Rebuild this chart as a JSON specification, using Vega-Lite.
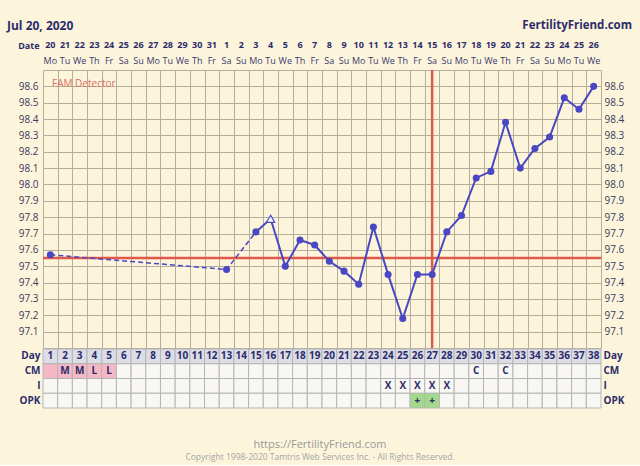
{
  "$schema": "https://vega.github.io/schema/vega-lite/v6.json",
  "background": "#fcf5dc",
  "padding": {"left": 7, "top": 19, "right": 8, "bottom": 4},
  "datasets": {
    "days": [
      {"Day": 1, "date": "20", "wd": "Mo", "temp": 97.57, "period": true},
      {"Day": 2, "date": "21", "wd": "Tu", "CM": "M", "period": true},
      {"Day": 3, "date": "22", "wd": "We", "CM": "M", "period": true},
      {"Day": 4, "date": "23", "wd": "Th", "CM": "L", "period": true},
      {"Day": 5, "date": "24", "wd": "Fr", "CM": "L", "period": true},
      {"Day": 6, "date": "25", "wd": "Sa"},
      {"Day": 7, "date": "26", "wd": "Su"},
      {"Day": 8, "date": "27", "wd": "Mo"},
      {"Day": 9, "date": "28", "wd": "Tu"},
      {"Day": 10, "date": "29", "wd": "We"},
      {"Day": 11, "date": "30", "wd": "Th"},
      {"Day": 12, "date": "31", "wd": "Fr"},
      {"Day": 13, "date": "1", "wd": "Sa", "temp": 97.48},
      {"Day": 14, "date": "2", "wd": "Su"},
      {"Day": 15, "date": "3", "wd": "Mo", "temp": 97.71},
      {"Day": 16, "date": "4", "wd": "Tu", "temp": 97.79},
      {"Day": 17, "date": "5", "wd": "We", "temp": 97.50},
      {"Day": 18, "date": "6", "wd": "Th", "temp": 97.66},
      {"Day": 19, "date": "7", "wd": "Fr", "temp": 97.63},
      {"Day": 20, "date": "8", "wd": "Sa", "temp": 97.53},
      {"Day": 21, "date": "9", "wd": "Su", "temp": 97.47},
      {"Day": 22, "date": "10", "wd": "Mo", "temp": 97.39},
      {"Day": 23, "date": "11", "wd": "Tu", "temp": 97.74},
      {"Day": 24, "date": "12", "wd": "We", "temp": 97.45, "I": "X"},
      {"Day": 25, "date": "13", "wd": "Th", "temp": 97.18, "I": "X"},
      {"Day": 26, "date": "14", "wd": "Fr", "temp": 97.45, "I": "X", "OPK": "+"},
      {"Day": 27, "date": "15", "wd": "Sa", "temp": 97.45, "I": "X", "OPK": "+"},
      {"Day": 28, "date": "16", "wd": "Su", "temp": 97.71, "I": "X"},
      {"Day": 29, "date": "17", "wd": "Mo", "temp": 97.81},
      {"Day": 30, "date": "18", "wd": "Tu", "temp": 98.04, "CM": "C"},
      {"Day": 31, "date": "19", "wd": "We", "temp": 98.08},
      {"Day": 32, "date": "20", "wd": "Th", "temp": 98.38, "CM": "C"},
      {"Day": 33, "date": "21", "wd": "Fr", "temp": 98.10},
      {"Day": 34, "date": "22", "wd": "Sa", "temp": 98.22},
      {"Day": 35, "date": "23", "wd": "Su", "temp": 98.29},
      {"Day": 36, "date": "24", "wd": "Mo", "temp": 98.53},
      {"Day": 37, "date": "25", "wd": "Tu", "temp": 98.46},
      {"Day": 38, "date": "26", "wd": "We", "temp": 98.60}
    ],
    "detector": [{"kind": "FAM Detector", "temp": 97.55, "Day": 27}]
  },
  "title": {"text": "Jul 20, 2020", "anchor": "start", "frame": "group", "dx": -36, "dy": 13, "offset": 0, "fontSize": 12, "fontWeight": "bold", "color": "#2d2c6b"},
  "spacing": 1,
  "bounds": "flush",
  "resolve": {"scale": {"color": "independent"}, "legend": {"color": "independent"}},
  "vconcat": [
    {
      "width": 558,
      "height": 32,
      "title": {"text": "FertilityFriend.com", "anchor": "end", "frame": "group", "dx": 31, "offset": 6, "fontSize": 11.5, "fontWeight": "bold", "color": "#2d2c6b"},
      "data": {"name": "days"},
      "transform": [{"fold": ["date", "wd"], "as": ["key", "label"]}],
      "encoding": {
        "x": {"field": "Day", "type": "quantitative", "scale": {"domain": [0.5, 38.5], "nice": false, "zero": false}, "axis": null},
        "y": {"field": "key", "type": "nominal", "scale": {"domain": ["date", "wd"]},
          "axis": {"orient": "left", "labelExpr": "datum.value === 'date' ? 'Date' : ''", "domain": false, "ticks": false, "grid": false, "labelFontWeight": "bold", "labelColor": "#2d2c6b", "labelFontSize": 9, "labelPadding": 4, "title": null}},
        "text": {"field": "label", "type": "nominal"}
      },
      "layer": [
        {
          "transform": [{"filter": "datum.key === 'date'"}],
          "mark": {"type": "text", "fontSize": 9, "fontWeight": "bold", "color": "#2d2c6b"}
        },
        {
          "transform": [{"filter": "datum.key === 'wd'"}],
          "mark": {"type": "text", "fontSize": 9, "color": "#3a3a6e"}
        }
      ]
    },
    {
      "width": 558,
      "height": 278,
      "resolve": {"axis": {"y": "independent"}},
      "layer": [
        {
          "encoding": {
            "x": {"field": "Day", "type": "quantitative", "scale": {"domain": [0.5, 38.5], "nice": false, "zero": false},
              "axis": {"values": [0.5, 1.5, 2.5, 3.5, 4.5, 5.5, 6.5, 7.5, 8.5, 9.5, 10.5, 11.5, 12.5, 13.5, 14.5, 15.5, 16.5, 17.5, 18.5, 19.5, 20.5, 21.5, 22.5, 23.5, 24.5, 25.5, 26.5, 27.5, 28.5, 29.5, 30.5, 31.5, 32.5, 33.5, 34.5, 35.5, 36.5, 37.5, 38.5], "grid": true, "gridColor": "#b5ae9d", "gridWidth": 1, "gridOpacity": 1, "labels": false, "ticks": false, "domain": false, "title": null}},
            "y": {"field": "temp", "type": "quantitative", "scale": {"domain": [97.0, 98.7], "nice": false, "zero": false},
              "axis": {"orient": "left", "values": [97.0, 97.1, 97.2, 97.3, 97.4, 97.5, 97.6, 97.7, 97.8, 97.9, 98.0, 98.1, 98.2, 98.3, 98.4, 98.5, 98.6, 98.7], "grid": true, "gridColor": "#b5ae9d", "gridWidth": 1, "gridOpacity": 1, "domain": false, "ticks": false, "labelPadding": 5, "labelOverlap": false, "labelExpr": "datum.value < 97.05 || datum.value > 98.65 ? '' : format(datum.value, '.1f')", "labelFontSize": 10, "labelColor": "#3b3b5c", "title": null}}
          },
          "layer": [
            {
              "data": {"name": "detector"},
              "mark": {"type": "rule", "strokeWidth": 2.5},
              "encoding": {
                "x": {"datum": 0.5, "type": "quantitative"},
                "x2": {"datum": 38.5},
                "color": {"field": "kind", "type": "nominal", "scale": {"range": ["#e0584a"]},
                  "legend": {"orient": "top-left", "offset": 7, "title": null, "padding": 2, "labelColor": "#d9715e", "labelFontSize": 10, "symbolOpacity": 0, "symbolSize": 0, "symbolStrokeWidth": 0, "labelOffset": -10, "zindex": 2}}
              }
            },
            {
              "data": {"name": "detector"},
              "mark": {"type": "rule", "strokeWidth": 2.5},
              "encoding": {
                "y": {"datum": 97.0, "type": "quantitative"},
                "y2": {"datum": 98.7},
                "color": {"field": "kind", "type": "nominal", "scale": {"range": ["#e0584a"]},
                  "legend": {"orient": "top-left", "offset": 7, "title": null, "padding": 2, "labelColor": "#d9715e", "labelFontSize": 10, "symbolOpacity": 0, "symbolSize": 0, "symbolStrokeWidth": 0, "labelOffset": -10, "zindex": 2}}
              }
            },
            {
              "data": {"name": "days"},
              "transform": [{"filter": "isValid(datum.temp) && datum.Day <= 15"}],
              "mark": {"type": "line", "color": "#4a47c2", "strokeWidth": 1.5, "strokeDash": [5, 3]}
            },
            {
              "data": {"name": "days"},
              "transform": [{"filter": "isValid(datum.temp) && datum.Day >= 15"}],
              "mark": {"type": "line", "color": "#4a47c2", "strokeWidth": 2}
            },
            {
              "data": {"name": "days"},
              "transform": [{"filter": "isValid(datum.temp) && datum.Day !== 16"}],
              "mark": {"type": "point", "shape": "circle", "filled": true, "size": 50, "color": "#4a47c2", "opacity": 1}
            },
            {
              "data": {"name": "days"},
              "transform": [{"filter": "datum.Day === 16"}],
              "mark": {"type": "point", "shape": "triangle-up", "filled": true, "fill": "#ffffff", "stroke": "#4a47c2", "strokeWidth": 1.2, "size": 70, "opacity": 1}
            }
          ]
        },
        {
          "data": {"name": "days"},
          "transform": [{"filter": "isValid(datum.temp)"}],
          "mark": {"type": "point", "opacity": 0},
          "encoding": {
            "x": {"field": "Day", "type": "quantitative", "scale": {"domain": [0.5, 38.5], "nice": false, "zero": false},
              "axis": {"values": [0.5, 1.5, 2.5, 3.5, 4.5, 5.5, 6.5, 7.5, 8.5, 9.5, 10.5, 11.5, 12.5, 13.5, 14.5, 15.5, 16.5, 17.5, 18.5, 19.5, 20.5, 21.5, 22.5, 23.5, 24.5, 25.5, 26.5, 27.5, 28.5, 29.5, 30.5, 31.5, 32.5, 33.5, 34.5, 35.5, 36.5, 37.5, 38.5], "grid": true, "gridColor": "#b5ae9d", "gridWidth": 1, "gridOpacity": 1, "labels": false, "ticks": false, "domain": false, "title": null}},
            "y": {"field": "temp", "type": "quantitative", "scale": {"domain": [97.0, 98.7], "nice": false, "zero": false},
              "axis": {"orient": "right", "values": [97.1, 97.2, 97.3, 97.4, 97.5, 97.6, 97.7, 97.8, 97.9, 98.0, 98.1, 98.2, 98.3, 98.4, 98.5, 98.6], "grid": false, "domain": false, "ticks": false, "labelPadding": 3, "labelOverlap": false, "format": ".1f", "labelFontSize": 10, "labelColor": "#3b3b5c", "title": null}}
          }
        }
      ]
    },
    {
      "width": 558,
      "height": 59,
      "title": {"text": "https://FertilityFriend.com", "subtitle": "Copyright 1998-2020 Tamtris Web Services Inc. - All Rights Reserved.", "orient": "bottom", "anchor": "middle", "frame": "group", "offset": 30, "dx": -2, "fontSize": 11, "fontWeight": "normal", "color": "#999999", "subtitleFontSize": 8.5, "subtitleColor": "#a5a5a5", "subtitlePadding": 3},
      "data": {"name": "days"},
      "transform": [{"fold": ["Day", "CM", "I", "OPK"], "as": ["key", "value"]}],
      "resolve": {"axis": {"y": "independent"}},
      "layer": [
        {
          "mark": {"type": "rect", "stroke": "#b5b5b5", "strokeWidth": 1},
          "encoding": {
            "x": {"field": "Day", "type": "ordinal", "scale": {"paddingInner": 0, "paddingOuter": 0}, "axis": null},
            "y": {"field": "key", "type": "nominal", "scale": {"domain": ["Day", "CM", "I", "OPK"], "paddingInner": 0, "paddingOuter": 0},
              "axis": {"orient": "left", "domain": false, "ticks": false, "labelPadding": 3, "labelFontWeight": "bold", "labelColor": "#2d2c6b", "labelFontSize": 10, "title": null, "grid": false}},
            "fill": {"condition": [
              {"test": "datum.key === 'Day'", "value": "#dcdde7"},
              {"test": "datum.key === 'CM' && datum.period", "value": "#f5b8c4"},
              {"test": "datum.key === 'OPK' && datum.value === '+'", "value": "#a3d98a"}
            ], "value": "#f8f7f3"}
          }
        },
        {
          "transform": [{"filter": "isValid(datum.value) && datum.value !== ''"}],
          "mark": {"type": "text", "fontSize": 10, "fontWeight": "bold", "color": "#2d2c6b"},
          "encoding": {
            "x": {"field": "Day", "type": "ordinal", "scale": {"paddingInner": 0, "paddingOuter": 0}, "axis": null},
            "y": {"field": "key", "type": "nominal", "scale": {"domain": ["Day", "CM", "I", "OPK"], "paddingInner": 0, "paddingOuter": 0},
              "axis": {"orient": "right", "domain": false, "ticks": false, "labelPadding": 2, "labelFontWeight": "bold", "labelColor": "#2d2c6b", "labelFontSize": 10, "title": null, "grid": false}},
            "text": {"field": "value", "type": "nominal"}
          }
        }
      ]
    }
  ],
  "config": {"font": "Open Sans", "view": {"stroke": null}}
}
